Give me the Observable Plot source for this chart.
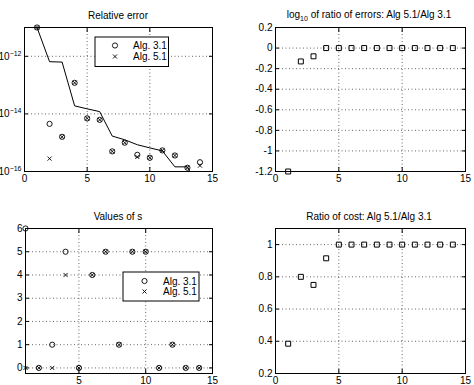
<!DOCTYPE html>
<html><head><meta charset="utf-8">
<script src="https://cdn.jsdelivr.net/npm/d3@7"></script>
<script src="https://cdn.jsdelivr.net/npm/@observablehq/plot@0.6"></script>
<style>
body{margin:0;background:#fff;}
#wrap{position:relative;width:474px;height:385px;overflow:hidden;background:#fff;font-family:"Liberation Sans",Arial,Helvetica,sans-serif;}
.title{position:absolute;font-size:10px;line-height:10px;white-space:nowrap;transform:translateX(-50%);color:#000;}
.title sub{font-size:7px;line-height:0;vertical-align:-3px;}
svg{display:block;}
</style></head><body>
<div id="wrap"></div>
<script>
// ---------- data ----------
const steps = [1,2,3,4,5,6,7,8,9,10,11,12,13,14];
const relErrAlg31 = [1e-11, 4.5e-15, 1.6e-15, 1.2e-13, 7e-15, 6.2e-15, 5e-16, 1e-15, 3.8e-16, 3e-16, 5.4e-16, 3.6e-16, 1.35e-16, 2.1e-16];
const relErrAlg51 = [1e-11, 2.8e-16, 1.6e-15, 1.2e-13, 7e-15, 6.2e-15, 5e-16, 1e-15, 3.2e-16, 3e-16, 5.4e-16, 3.6e-16, 1.35e-16, 1.6e-16];
const relErrBound = [1e-11, 6.5e-13, 6.3e-13, 1.9e-14, 1.5e-14, 1.2e-14, 1.7e-15, 1.26e-15, 8.5e-16, 6.6e-16, 5.2e-16, 1.45e-16, 1.45e-16, 2e-17];
const logErrRatio = [-1.2, -0.13, -0.08, 0, 0, 0, 0, 0, 0, 0, 0, 0, 0, 0];
const sAlg31 = [6, 0, 1, 5, 0, 4, 5, 1, 5, 5, 0, 1, 0, 0];
const sAlg51 = [0, 0, 0, 4, 0, 4, 5, 1, 5, 5, 0, 1, 0, 0];
const costRatio = [0.385, 0.8, 0.75, 0.915, 1, 1, 1, 1, 1, 1, 1, 1, 1, 1];
const legendLabels = ["Alg. 3.1", "Alg. 5.1"];
const titles = ["Relative error", "log<sub>10</sub> of ratio of errors: Alg 5.1/Alg 3.1", "Values of s", "Ratio of cost: Alg 5.1/Alg 3.1"];
const xTicksA = [0, 5, 10, 15];
const xTicksB = [5, 10, 15];
const relErrTicks = [1e-16, 1e-14, 1e-12];
const ratioTicks = [0.2, 0, -0.2, -0.4, -0.6, -0.8, -1, -1.2];
const sTicks = [0, 1, 2, 3, 4, 5, 6];
const costTicks = [0.2, 0.4, 0.6, 0.8, 1];

// ---------- helpers ----------
const FONT = "'Liberation Sans', Arial, Helvetica, sans-serif";
const wrap = document.getElementById("wrap");
const gridStyle = {stroke: "#000", strokeOpacity: 0.6, strokeDasharray: "1,2.5", strokeWidth: 1};
const numFmt = d => String(Math.round(d * 10) / 10);
const circleStyle = {symbol: "circle", r: 2.6, stroke: "black", fill: "none", strokeWidth: 0.9};
const timesStyle = {symbol: "times", r: 2.0, stroke: "black", fill: "none", strokeWidth: 0.9};
const squareStyle = {symbol: "square", r: 2.8, stroke: "black", fill: "none", strokeWidth: 1};

function axes(xTicks, yTicks, xFmt, yFmt) {
  return [
    Plot.axisX({anchor: "bottom", ticks: xTicks, tickSize: -4, tickPadding: 7, tickFormat: xFmt, label: null}),
    Plot.axisX({anchor: "top", ticks: xTicks, tickSize: -4, tickPadding: 0, tickFormat: () => "", label: null}),
    Plot.axisY({anchor: "left", ticks: yTicks, tickSize: -4, tickPadding: 7, tickFormat: yFmt, label: null}),
    Plot.axisY({anchor: "right", ticks: yTicks, tickSize: -4, tickPadding: 0, tickFormat: () => "", label: null})
  ];
}
function place(node, left, top) {
  const d = document.createElement("div");
  d.style.cssText = `position:absolute;left:${left}px;top:${top}px;`;
  d.appendChild(node);
  wrap.appendChild(d);
}
function addTitle(html, cx, cy) {
  const d = document.createElement("div");
  d.className = "title";
  d.style.left = cx + "px";
  d.style.top = (cy - 5) + "px";
  d.innerHTML = html;
  wrap.appendChild(d);
}
function addLegend(left, top, w, h, rowY, symX, textX) {
  const svg = d3.create("svg").attr("width", w + 2).attr("height", h + 2)
    .style("position", "absolute").style("left", (left - 1) + "px").style("top", (top - 1) + "px");
  svg.append("rect").attr("x", 1).attr("y", 1).attr("width", w).attr("height", h)
    .attr("fill", "white").attr("stroke", "black").attr("stroke-width", 1);
  legendLabels.forEach((lab, i) => {
    const y = 1 + rowY[i];
    if (i === 0) {
      svg.append("circle").attr("cx", 1 + symX).attr("cy", y).attr("r", circleStyle.r)
        .attr("fill", "none").attr("stroke", "black").attr("stroke-width", 0.9);
    } else {
      svg.append("path").attr("transform", `translate(${1 + symX},${y})`)
        .attr("d", d3.symbol(d3.symbolTimes, timesStyle.r * timesStyle.r * Math.PI)())
        .attr("fill", "none").attr("stroke", "black").attr("stroke-width", 0.9);
    }
    svg.append("text").attr("x", 1 + textX).attr("y", y).attr("dy", "0.35em")
      .attr("font-family", FONT).attr("font-size", 10).text(lab);
  });
  wrap.appendChild(svg.node());
}
const style = {fontFamily: FONT, fontSize: "10px", color: "black", background: "transparent", overflow: "visible"};

// ---------- panel 1: relative error ----------
const p1 = Plot.plot({
  width: 237, height: 190, marginLeft: 24, marginRight: 25, marginTop: 27, marginBottom: 19,
  style,
  x: {domain: [0, 15]},
  y: {type: "log", domain: [1e-16, 1e-11]},
  marks: [
    Plot.gridX(xTicksA, gridStyle),
    Plot.gridY(relErrTicks, gridStyle),
    Plot.line(steps, {x: d => d, y: (d, i) => relErrBound[i], stroke: "black", strokeWidth: 1, clip: true}),
    Plot.dot(steps, {x: d => d, y: (d, i) => relErrAlg31[i], ...circleStyle}),
    Plot.dot(steps, {x: d => d, y: (d, i) => relErrAlg51[i], ...timesStyle}),
    Plot.frame({stroke: "black"}),
    ...axes(xTicksA, relErrTicks, d => String(d), d => "10^" + Math.round(Math.log10(d)))
  ]
});
// superscript exponents
p1.querySelectorAll("text").forEach(t => {
  const m = /^10\^(-?\d+)$/.exec(t.textContent);
  if (m) {
    t.textContent = "10";
    const ts = document.createElementNS("http://www.w3.org/2000/svg", "tspan");
    ts.setAttribute("dy", "-4");
    ts.setAttribute("font-size", "7");
    ts.textContent = m[1].replace("-", "\u2212");
    t.appendChild(ts);
  }
});
place(p1, 0, 0);

// ---------- panel 2: log10 ratio of errors ----------
const p2 = Plot.plot({
  width: 237, height: 190, marginLeft: 38, marginRight: 9, marginTop: 27, marginBottom: 19,
  style,
  x: {domain: [0, 15]},
  y: {domain: [-1.2, 0.2]},
  marks: [
    Plot.gridX(xTicksA, gridStyle),
    Plot.gridY(ratioTicks, gridStyle),
    Plot.dot(steps, {x: d => d, y: (d, i) => logErrRatio[i], ...squareStyle}),
    Plot.frame({stroke: "black"}),
    ...axes(xTicksA, ratioTicks, d => String(d), numFmt)
  ]
});
place(p2, 237, 0);

// ---------- panel 3: values of s ----------
const p3 = Plot.plot({
  width: 237, height: 195, marginLeft: 25, marginRight: 25, marginTop: 38, marginBottom: 12,
  style,
  x: {domain: [1, 15]},
  y: {domain: [-0.24, 6]},
  marks: [
    Plot.gridX(xTicksB, gridStyle),
    Plot.gridY(sTicks, gridStyle),
    Plot.dot(steps, {x: d => d, y: (d, i) => sAlg31[i], ...circleStyle}),
    Plot.dot(steps, {x: d => d, y: (d, i) => sAlg51[i], ...timesStyle}),
    Plot.frame({stroke: "black"}),
    ...axes(xTicksB, sTicks, d => String(d), d => String(d))
  ]
});
place(p3, 0, 190);

// ---------- panel 4: ratio of cost ----------
const p4 = Plot.plot({
  width: 237, height: 195, marginLeft: 38, marginRight: 9, marginTop: 38, marginBottom: 12,
  style,
  x: {domain: [0, 15]},
  y: {domain: [0.2, 1.1]},
  marks: [
    Plot.gridX(xTicksA, gridStyle),
    Plot.gridY(costTicks, gridStyle),
    Plot.dot(steps, {x: d => d, y: (d, i) => costRatio[i], ...squareStyle}),
    Plot.frame({stroke: "black"}),
    ...axes(xTicksA, costTicks, d => String(d), numFmt)
  ]
});
place(p4, 237, 190);

// ---------- titles & legends ----------
addTitle(titles[0], 118, 16);
addTitle(titles[1], 369, 14.5);
addTitle(titles[2], 118, 216.5);
addTitle(titles[3], 369, 216.5);
addLegend(95, 36.5, 73.5, 29.5, [8.5, 19.5], 20, 38);
addLegend(123, 272, 76, 29, [9, 19.5], 21.5, 40);
</script>
</body></html>
